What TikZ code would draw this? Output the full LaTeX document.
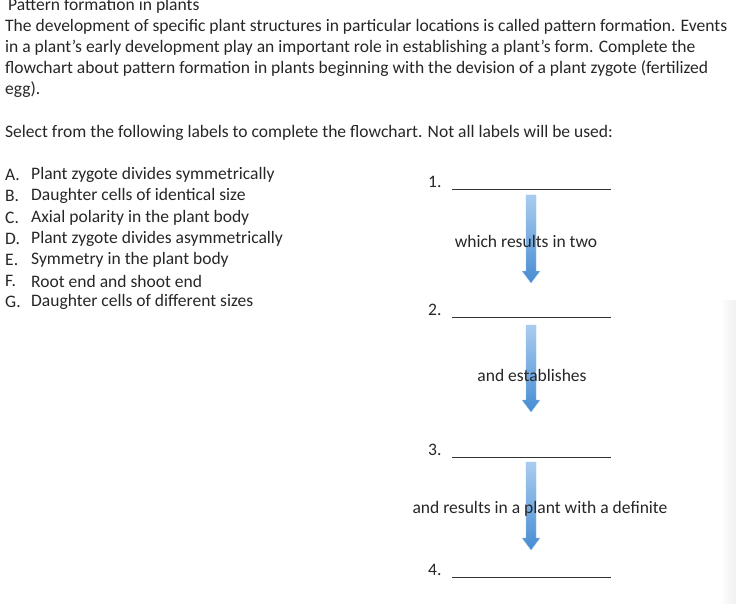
\documentclass[tikz,border=0pt]{standalone}
\usepackage{fontspec}
\setmainfont{Carlito}
\usetikzlibrary{calc}
\definecolor{arrtop}{RGB}{170,205,240}
\definecolor{arrbot}{RGB}{70,140,210}
\begin{document}
\begin{tikzpicture}[x=1bp,y=-1bp,
  txt/.style={anchor=west,inner sep=0pt,font=\fontsize{17.6}{20}\selectfont,text=black!85},
  blank/.style={draw=black!80,line width=0.6bp},
  lbl/.style={anchor=center,inner sep=0pt,font=\fontsize{17.6}{20}\selectfont,text=black!85}]
\useasboundingbox (0,0) rectangle (736,604);
\shade[left color=white,right color=black!6] (720,300) rectangle (736,604);
\node[txt] (t0) at (8,5.5) {Pattern formation in plants};
\node[txt] (t1) at (5,27) {The development of specific plant structures in particular locations is called pattern formation. Events};
\node[txt] (t2) at (5,48) {in a plant’s early development play an important role in establishing a plant’s form. Complete the};
\node[txt] (t3) at (5,69) {flowchart about pattern formation in plants beginning with the devision of a plant zygote (fertilized};
\node[txt] (t4) at (5,90) {egg).};
\node[txt] (t5) at (5,133) {Select from the following labels to complete the flowchart. Not all labels will be used:};
\foreach \l/\t [count=\i from 0] in {A/Plant zygote divides symmetrically,B/Daughter cells of identical size,C/Axial polarity in the plant body,D/Plant zygote divides asymmetrically,E/Symmetry in the plant body,F/Root end and shoot end,G/Daughter cells of different sizes}{
  \node[txt] (L\i) at (5,{175+21.2*\i}) {\l.};
  \node[txt] (T\i) at (31,{175+21.2*\i}) {\t};
}
% arrows
\foreach \n/\a/\b in {1/195/283,2/325/412,3/462/550}{
  \coordinate (s\n) at (531,\a);
  \coordinate (e\n) at (531,\b);
  \shade[top color=arrtop,bottom color=arrbot,draw=arrtop!80!arrbot,line width=0.3bp]
    ($(s\n)+(-5,0)$) -- ($(s\n)+(5,0)$) -- ($(e\n)+(5,-12)$) -- ($(e\n)+(9,-12)$) -- (e\n) -- ($(e\n)+(-9,-12)$) -- ($(e\n)+(-5,-12)$) -- cycle;
}
\foreach \n/\y in {1/182,2/310,3/450,4/570}{
  \node[txt] (n\n) at (428,\y) {\n.};
  \draw[blank] (452,\y+7) -- (611,\y+7);
}
\node[lbl] (w1) at (526,241) {which results in two};
\node[lbl] (w2) at (532,375) {and establishes};
\node[lbl] (w3) at (540,509) {and results in a plant with a definite};
\end{tikzpicture}
\end{document}
